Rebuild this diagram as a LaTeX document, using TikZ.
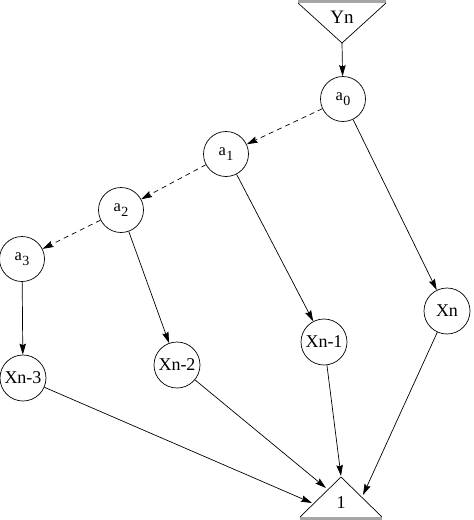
\documentclass[tikz,border=0pt]{standalone}
\usepackage{fontspec}
\setmainfont{Liberation Serif}
\usetikzlibrary{arrows.meta}
\begin{document}
\begin{tikzpicture}[x=1pt,y=-1pt,
  vnode/.style={draw,circle,line width=0.7pt,minimum size=46pt,inner sep=0pt,font=\fontsize{18}{18}\selectfont},
  anode/.style={draw,circle,line width=0.7pt,minimum size=45pt,inner sep=0pt,font=\fontsize{16.5}{16}\selectfont},
  edge/.style={line width=0.7pt,-{Stealth[length=11pt,width=6.5pt,inset=1.5pt]}},
  dedge/.style={edge,dash pattern=on 5pt off 4pt},
  tri/.style={line width=0.7pt},
  bar/.style={line width=3pt,gray!70}]
\useasboundingbox (0,0) rectangle (474,520);
\newcommand{\asub}[1]{a\kern0.3pt\raisebox{-5.5pt}{\fontsize{14}{14}\selectfont #1}}
% top triangle
\draw[bar] (298,1.5) -- (386,1.5);
\draw[tri] (298,3) -- (342,43) -- (386,3);
\node[font=\fontsize{19}{19}\selectfont] (yn) at (342,17) {Yn};
\coordinate (ytip) at (342,43);
% bottom triangle
\draw[bar] (300,518.5) -- (382,518.5);
\draw[tri] (300,517) -- (341,477) -- (382,517);
\node[font=\fontsize{18}{18}\selectfont] (one) at (341,503) {1};
\coordinate (t3) at (312,503);
\coordinate (t2) at (326,488);
\coordinate (t1) at (341,476);
\coordinate (t0) at (363,495);
% nodes
\node[anode] (a0) at (343,99) {\asub{0}};
\node[anode] (a1) at (226,154) {\asub{1}};
\node[anode] (a2) at (121,210) {\asub{2}};
\node[anode] (a3) at (22,259) {\asub{3}};
\node[vnode] (xn) at (447,311) {Xn};
\node[vnode] (xn1) at (324,342) {Xn-1};
\node[vnode] (xn2) at (177,365) {Xn-2};
\node[vnode] (xn3) at (23,378) {Xn-3};
% edges
\draw[edge] (ytip) -- (a0);
\draw[dedge] (a0) -- (a1);
\draw[dedge] (a1) -- (a2);
\draw[dedge] (a2) -- (a3);
\draw[edge] (a0) -- (xn);
\draw[edge] (a1) -- (xn1);
\draw[edge] (a2) -- (xn2);
\draw[edge] (a3) -- (xn3);
\draw[edge] (xn3) -- (t3);
\draw[edge] (xn2) -- (t2);
\draw[edge] (xn1) -- (t1);
\draw[edge] (xn) -- (t0);
\end{tikzpicture}
\end{document}
